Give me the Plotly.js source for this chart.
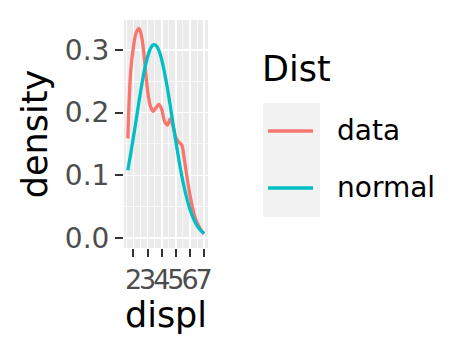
<!DOCTYPE html>
<html>
<head>
<meta charset="utf-8">
<script src="https://cdn.plot.ly/plotly-3.0.1.min.js"></script>
<style>html,body{margin:0;padding:0;background:#fff;}#chart{width:474px;height:355px;}</style>
</head>
<body>
<div id="chart"></div>
<script>
var displ = [1.6,1.8,2.0,2.2,2.4,2.6,2.8,3.0,3.2,3.4,3.6,3.8,4.0,4.2,4.4,4.6,4.8,5.0,5.2,5.4,5.6,5.8,6.0,6.2,6.4,6.6,6.8,7.0];
var densityData = [0.159,0.265,0.305,0.328,0.334,0.318,0.28,0.235,0.21,0.202,0.208,0.213,0.205,0.186,0.18,0.19,0.178,0.16,0.153,0.149,0.125,0.095,0.068,0.046,0.03,0.02,0.012,0.007];
var densityNormal = [0.108,0.134,0.161,0.190,0.219,0.246,0.270,0.289,0.302,0.308,0.307,0.299,0.284,0.263,0.239,0.211,0.182,0.153,0.126,0.101,0.0795,0.0609,0.0455,0.0332,0.0237,0.0165,0.0112,0.0074];
var seriesNames = ['data','normal'];
var seriesColors = ['#F8766D','#00BFC4'];
var xTicks = [2,3,4,5,6,7];
var yTicks = [0,0.1,0.2,0.3];
var yTickLabels = ['0.0','0.1','0.2','0.3'];

var L = 124, R = 208, T = 20, B = 248;
function px(x){return (x-L)/(R-L);}
function py(y){return (B-y)/(B-T);}

var traces = [
  {x: displ, y: densityData, name: seriesNames[0], type:'scatter', mode:'lines',
   line:{color:seriesColors[0], width:3.3, shape:'spline', smoothing:1}, showlegend:false, hoverinfo:'skip'},
  {x: displ, y: densityNormal, name: seriesNames[1], type:'scatter', mode:'lines',
   line:{color:seriesColors[1], width:3.3, shape:'spline', smoothing:1}, showlegend:false, hoverinfo:'skip'}
];

var font = 'DejaVu Sans, sans-serif';
var layout = {
  width:474, height:355,
  margin:{l:L, r:474-R, t:T, b:355-B, pad:0},
  paper_bgcolor:'#FFFFFF', plot_bgcolor:'#EBEBEB',
  font:{family:font, color:'#000000'},
  showlegend:false,
  xaxis:{range:[1.33,7.27], tickmode:'array', tickvals:xTicks, ticktext:xTicks.map(String), tickangle:0,
    ticks:'outside', ticklen:8, tickwidth:2, tickcolor:'#333333',
    tickfont:{family:font, size:27, color:'#4D4D4D'},
    showgrid:true, gridcolor:'#FFFFFF', gridwidth:1.5, zeroline:false, showline:false,
    minor:{tickvals:[1.5,2.5,3.5,4.5,5.5,6.5], showgrid:true, gridcolor:'#FFFFFF', gridwidth:0.7, ticks:''},
    title:{text:'displ', font:{family:font, size:35, color:'#000000'}, standoff:5}},
  yaxis:{range:[-0.0158,0.3476], tickmode:'array', tickvals:yTicks, ticktext:yTickLabels,
    ticks:'outside', ticklen:8, tickwidth:2, tickcolor:'#333333',
    tickfont:{family:font, size:28, color:'#4D4D4D'},
    showgrid:true, gridcolor:'#FFFFFF', gridwidth:1.5, zeroline:false, showline:false,
    minor:{tickvals:[0.05,0.15,0.25], showgrid:true, gridcolor:'#FFFFFF', gridwidth:0.7, ticks:''},
    title:{text:'density', font:{family:font, size:35, color:'#000000'}, standoff:6}},
  shapes:[
    {type:'rect', xref:'paper', yref:'paper', x0:px(263), x1:px(320), y0:py(217), y1:py(103),
     fillcolor:'#F2F2F2', line:{width:0}, layer:'below'},
    {type:'line', xref:'paper', yref:'paper', x0:px(268), x1:px(313), y0:py(131), y1:py(131),
     line:{color:seriesColors[0], width:3.3}},
    {type:'line', xref:'paper', yref:'paper', x0:px(268), x1:px(313), y0:py(188), y1:py(188),
     line:{color:seriesColors[1], width:3.3}}
  ],
  annotations:[
    {text:'Dist', xref:'paper', yref:'paper', x:px(260), y:py(69), xanchor:'left', yanchor:'middle',
     showarrow:false, font:{family:font, size:35, color:'#000000'}},
    {text:seriesNames[0], xref:'paper', yref:'paper', x:px(335), y:py(130), xanchor:'left', yanchor:'middle',
     showarrow:false, font:{family:font, size:28, color:'#000000'}},
    {text:seriesNames[1], xref:'paper', yref:'paper', x:px(335), y:py(187), xanchor:'left', yanchor:'middle',
     showarrow:false, font:{family:font, size:28, color:'#000000'}}
  ]
};
Plotly.newPlot('chart', traces, layout, {displayModeBar:false, staticPlot:true});
</script>
</body>
</html>
